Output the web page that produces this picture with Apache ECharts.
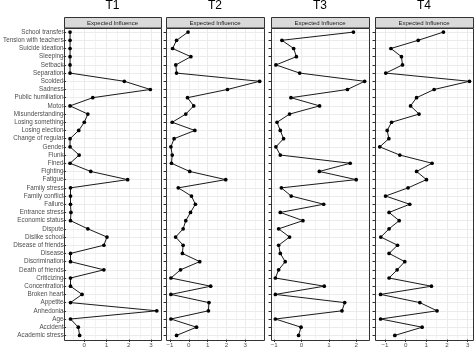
<!DOCTYPE html>
<html>
<head>
<meta charset="utf-8">
<script src="https://cdn.jsdelivr.net/npm/echarts@6/dist/echarts.min.js"></script>
<style>
  html, body { margin: 0; padding: 0; background: #ffffff; }
  #chart { width: 474px; height: 348px; }
</style>
</head>
<body>
<div id="chart"></div>
<script>
// Stressor / symptom nodes, listed top to bottom
const categories = [
  'School transfer', 'Tension with teachers', 'Suicide ideation', 'Sleeping', 'Setback',
  'Separation', 'Scolded', 'Sadness', 'Public humiliation', 'Motor',
  'Misunderstanding', 'Losing something', 'Losing election', 'Change of regular', 'Gender',
  'Flunk', 'Fined', 'Fighting', 'Fatigue', 'Family stress',
  'Family conflict', 'Failure', 'Entrance stress', 'Economic status', 'Dispute',
  'Dislike school', 'Disease of friends', 'Disease', 'Discrimination', 'Death of friends',
  'Criticizing', 'Concentration', 'Broken heart', 'Appetite', 'Anhedonia',
  'Age', 'Accident', 'Academic stress'
];

const waveNames = ['T1', 'T2', 'T3', 'T4'];
const stripLabel = 'Expected Influence';

// Standardised expected influence per node, one array per wave
const t1Values = [
  -0.64, -0.64, -0.64, -0.64, -0.64, -0.64, 1.80, 2.97, 0.38, -0.64,
  0.16, 0.00, -0.25, -0.64, -0.64, -0.23, -0.64, 0.29, 1.95, -0.62,
  -0.62, -0.62, -0.60, -0.62, 0.16, 1.02, 0.88, -0.62, -0.62, 0.88,
  -0.62, -0.62, -0.10, -0.62, 3.26, -0.62, -0.27, -0.21
];
const t2Values = [
  -0.04, -0.65, -0.86, 0.11, -0.69, -0.65, 3.76, 2.05, -0.07, 0.26,
  -0.16, -0.88, 0.32, -0.78, -0.95, -0.88, -0.92, 0.05, 1.96, -0.56,
  0.14, 0.35, 0.09, -0.16, -0.30, -0.70, -0.30, -0.34, 0.58, -0.44,
  -0.95, 1.16, -0.95, 1.07, 1.04, -0.95, 0.41, -0.65
];
const t3Values = [
  1.90, -0.72, -0.29, -0.19, -0.94, -0.07, 2.31, 1.68, -0.39, 0.66,
  -0.44, -0.90, -0.78, -0.66, -0.94, -0.78, 1.78, 0.65, 2.00, -0.74,
  -0.38, 0.81, -0.78, 0.05, -0.84, -0.44, -0.84, -0.78, -0.60, -0.84,
  -0.96, 0.83, -0.96, 1.58, 1.48, -0.96, -0.02, -0.11
];
const t4Values = [
  1.83, 0.61, -0.71, -0.20, -0.15, -0.96, 3.09, 1.38, 0.53, 0.24,
  0.65, -0.68, -0.89, -0.81, -1.25, -0.28, 1.28, 0.53, 1.01, 0.12,
  -0.97, 0.20, -0.80, -0.31, -0.80, -1.20, -0.39, -0.80, -0.04, -0.41,
  -0.80, 1.25, -1.21, 0.69, 1.52, -1.21, 0.80, -0.52
];

// Tick labels on each wave's x axis
const t1Ticks = [0, 1, 2, 3];
const t2Ticks = [-1, 0, 1, 2, 3];
const t3Ticks = [-1, 0, 1, 2];
const t4Ticks = [-1, 0, 1, 2, 3];

const waveValues = [t1Values, t2Values, t3Values, t4Values];
const waveTicks = [t1Ticks, t2Ticks, t3Ticks, t4Ticks];

// Panel geometry (pixels) and x ranges
const W = 474, H = 348;
const panelTop = 28, panelBottom = 340;
const panels = [
  { left: 64,  right: 161, min: -0.82, max: 3.45 },
  { left: 166, right: 264, min: -1.21, max: 3.99 },
  { left: 271, right: 369, min: -1.12, max: 2.47 },
  { left: 375, right: 473, min: -1.48, max: 3.26 }
];

const FONT = '"Liberation Sans", Arial, Helvetica, sans-serif';
const GRID_COLOR = '#ebebeb';
const INK = '#333333';
const LABEL_COLOR = '#4d4d4d';

const grids = [], xAxes = [], yAxes = [], series = [], graphics = [];

panels.forEach((p, i) => {
  grids.push({
    left: p.left,
    width: p.right - p.left,
    top: panelTop,
    height: panelBottom - panelTop,
    containLabel: false
  });

  xAxes.push({
    type: 'value',
    gridIndex: i,
    position: 'bottom',
    min: p.min,
    max: p.max,
    minInterval: 1,
    maxInterval: 1,
    splitNumber: 4,
    axisLine: { show: false, onZero: false },
    axisTick: {
      show: true, length: 2.5, customValues: waveTicks[i],
      lineStyle: { color: INK, width: 1 }
    },
    axisLabel: {
      show: true, customValues: waveTicks[i], margin: 2.5,
      fontSize: 6.2, fontFamily: FONT, color: LABEL_COLOR,
      showMinLabel: true, showMaxLabel: true,
      formatter: v => (v < 0 ? '\u2212' + Math.abs(v) : String(v))
    },
    splitLine: { show: true, lineStyle: { color: GRID_COLOR, width: 1 } },
    minorTick: { show: false, splitNumber: 2 },
    minorSplitLine: { show: true, lineStyle: { color: GRID_COLOR, width: 0.6 } }
  });

  yAxes.push({
    type: 'category',
    gridIndex: i,
    position: 'left',
    data: categories,
    inverse: true,
    axisLine: { show: false, onZero: false },
    axisTick: { show: true, alignWithLabel: true, length: 2.5, lineStyle: { color: INK, width: 1 } },
    axisLabel: {
      show: i === 0, interval: 0, margin: 2.5,
      fontSize: 6.3, fontFamily: FONT, color: LABEL_COLOR
    },
    splitLine: { show: true, alignWithLabel: true, lineStyle: { color: GRID_COLOR, width: 1 } }
  });

  series.push({
    type: 'line',
    xAxisIndex: i,
    yAxisIndex: i,
    data: categories.map((c, k) => [waveValues[i][k], c]),
    symbol: 'circle',
    symbolSize: 3.7,
    showSymbol: true,
    clip: false,
    itemStyle: { color: '#000000' },
    lineStyle: { color: '#000000', width: 0.9 },
    emphasis: { disabled: true },
    animation: false,
    z: 5
  });

  const cx = (p.left + p.right) / 2;
  // wave title
  graphics.push({
    type: 'text', x: cx, y: 6, z: 20,
    style: {
      text: waveNames[i], font: '12px ' + FONT, fill: '#000000',
      textAlign: 'center', textVerticalAlign: 'middle'
    }
  });
  // facet strip
  graphics.push({
    type: 'rect', z: 20,
    shape: { x: p.left + 0.5, y: 17.5, width: p.right - p.left, height: panelTop - 17.5 },
    style: { fill: '#d9d9d9', stroke: INK, lineWidth: 1 }
  });
  graphics.push({
    type: 'text', x: cx, y: (17.5 + panelTop) / 2 + 0.3, z: 21,
    style: {
      text: stripLabel, font: '6px ' + FONT, fill: '#1a1a1a',
      textAlign: 'center', textVerticalAlign: 'middle'
    }
  });
  // panel border
  graphics.push({
    type: 'rect', z: 30, silent: true,
    shape: { x: p.left + 0.5, y: panelTop + 0.5, width: p.right - p.left, height: panelBottom - panelTop },
    style: { fill: 'none', stroke: INK, lineWidth: 1 }
  });
});

const chart = echarts.init(document.getElementById('chart'), null, { renderer: 'canvas', width: W, height: H });
chart.setOption({
  animation: false,
  backgroundColor: '#ffffff',
  grid: grids,
  xAxis: xAxes,
  yAxis: yAxes,
  series: series,
  graphic: graphics
});
</script>
</body>
</html>
